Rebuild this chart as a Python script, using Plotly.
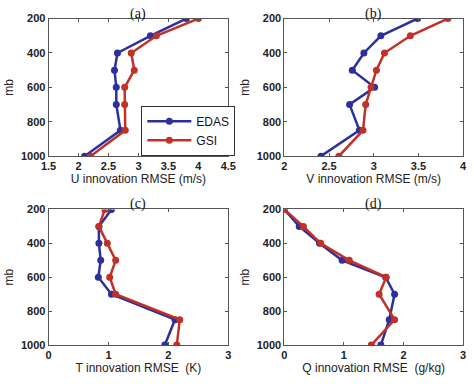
import plotly.graph_objects as go
from plotly.subplots import make_subplots

levels = [200, 300, 400, 500, 600, 700, 850, 1000]

u_edas = [3.80, 3.20, 2.65, 2.60, 2.63, 2.63, 2.70, 2.10]
u_gsi = [4.00, 3.30, 2.88, 2.93, 2.77, 2.77, 2.78, 2.20]

v_edas = [3.49, 3.08, 2.89, 2.76, 3.01, 2.73, 2.84, 2.41]
v_gsi = [3.83, 3.41, 3.12, 3.03, 2.97, 2.91, 2.88, 2.61]

t_edas = [1.05, 0.84, 0.84, 0.87, 0.83, 1.05, 2.11, 1.94]
t_gsi = [0.94, 0.84, 0.98, 1.12, 1.02, 1.12, 2.19, 2.14]

q_edas = [0.00, 0.25, 0.59, 0.97, 1.70, 1.85, 1.76, 1.62]
q_gsi = [0.00, 0.32, 0.61, 1.09, 1.71, 1.59, 1.85, 1.46]

panel_titles = ["(a)", "(b)", "(c)", "(d)"]
x_titles = ["U innovation RMSE (m/s)", "V innovation RMSE (m/s)",
            "T innovation RMSE  (K)", "Q innovation RMSE  (g/kg)"]
x_ranges = [[1.5, 4.5], [2, 4], [0, 3], [0, 3]]
x_dticks = [0.5, 0.5, 1, 1]

BLUE = "#2d2f9a"
RED = "#c13127"
AX = "#555555"

fig = make_subplots(rows=2, cols=2)

data = [(u_edas, u_gsi), (v_edas, v_gsi), (t_edas, t_gsi), (q_edas, q_gsi)]
pos = [(1, 1), (1, 2), (2, 1), (2, 2)]

for i, ((e, g), (r, c)) in enumerate(zip(data, pos)):
    fig.add_trace(go.Scatter(x=e, y=levels, mode="lines+markers", name="EDAS",
                             line=dict(color=BLUE, width=2.5),
                             marker=dict(color=BLUE, size=7),
                             showlegend=(i == 0)), row=r, col=c)
    fig.add_trace(go.Scatter(x=g, y=levels, mode="lines+markers", name="GSI",
                             line=dict(color=RED, width=2.5),
                             marker=dict(color=RED, size=7),
                             showlegend=(i == 0)), row=r, col=c)

xdoms = [[42/474, 228/474], [286/474, 471/474]]
ydoms = [[1 - 155/384, 1 - 13/384], [1 - 350/384, 1 - 210/384]]

for i, (r, c) in enumerate(pos):
    xa = "xaxis" if i == 0 else f"xaxis{i+1}"
    ya = "yaxis" if i == 0 else f"yaxis{i+1}"
    fig.layout[xa].update(domain=xdoms[c-1], range=x_ranges[i], dtick=x_dticks[i],
                          tick0=x_ranges[i][0],
                          showline=True, linecolor=AX, linewidth=1, mirror="ticks",
                          ticks="inside", ticklen=3, tickcolor=AX, showgrid=False,
                          zeroline=False,
                          tickfont=dict(family="Liberation Sans", size=11, color="#222222", weight="bold"),
                          title=dict(text=x_titles[i], standoff=3,
                                     font=dict(family="Liberation Sans", size=12, color="#222222")))
    fig.layout[ya].update(domain=ydoms[r-1], range=[1000, 200], tickvals=[200, 400, 600, 800, 1000],
                          showline=True, linecolor=AX, linewidth=1, mirror="ticks",
                          ticks="inside", ticklen=3, tickcolor=AX, showgrid=False,
                          zeroline=False,
                          tickfont=dict(family="Liberation Sans", size=11, color="#222222", weight="bold"),
                          title=dict(text="mb", standoff=4,
                                     font=dict(family="Liberation Sans", size=12, color="#222222")))
    xc = (xdoms[c-1][0] + xdoms[c-1][1]) / 2
    fig.add_annotation(text=panel_titles[i], x=xc, y=ydoms[r-1][1], xref="paper", yref="paper",
                       xanchor="center", yanchor="middle", yshift=5, showarrow=False,
                       font=dict(family="Liberation Serif", size=14, color="#111111"))

fig.update_layout(width=474, height=384, margin=dict(l=0, r=0, t=0, b=0),
                  paper_bgcolor="white", plot_bgcolor="white",
                  legend=dict(x=138/474, y=1 - 103/384, xanchor="left", yanchor="top",
                              bordercolor="#333333", borderwidth=1, bgcolor="white",
                              font=dict(family="Liberation Sans", size=12, color="#111111"),
                              itemwidth=44, tracegroupgap=2))

fig.write_html("out.html", config={"displayModeBar": False},
               post_script="document.body.style.margin='0';document.body.style.padding='0';")
